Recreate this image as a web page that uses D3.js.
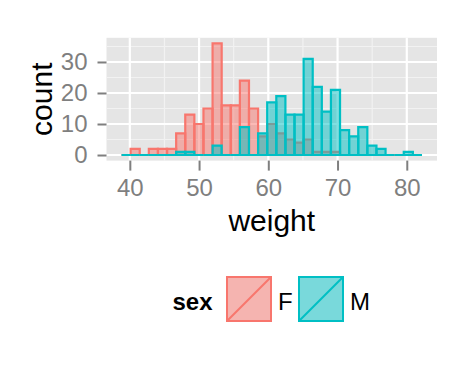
<!DOCTYPE html>
<html lang="en">
    <head>
        <script src="https://d3js.org/d3.v7.min.js"></script>
        <title>weight histogram</title>
        <style>
            body { margin: 0; background: #fff; }
            text { font-family: "Liberation Sans", Arial, Helvetica, sans-serif; }
        </style>
    </head>

    <body>
        <div id="plot-div"></div>
        <script>
            // histogram bins (weight), 33 bins
            const binStart = 38.8
            const binWidth = 1.315
            const countsF = [0, 2, 0, 2, 2, 2, 7, 13, 10, 15, 36, 16, 16, 24, 15, 6, 10,
                             7, 5, 4, 5, 1, 1, 1, 0, 0, 0, 0, 0, 0, 0, 0, 0]
            const countsM = [0, 0, 0, 0, 0, 0, 1, 1, 0, 0, 3, 0, 0, 9, 0, 7, 17,
                             19, 13, 13, 31, 22, 14, 21, 8, 6, 9, 3, 2, 0, 0, 1, 0]
            const groups = ['F', 'M']
            const xTicks = [40, 50, 60, 70, 80]
            const xMinor = [45, 55, 65, 75]
            const yTicks = [0, 10, 20, 30]
            const yMinor = [5, 15, 25, 35]

            const width = 474
            const height = 379
            const panel = { left: 106.5, right: 437, top: 37.8, bottom: 160.6 }

            const colors = { F: '#F8766D', M: '#00BFC4' }
            const gray = '#7F7F7F'

            let makeBins = (counts, key) => counts.map((c, i) => ({
                key: key,
                x0: binStart + i * binWidth,
                x1: binStart + (i + 1) * binWidth,
                count: c
            }))
            const data = [].concat(makeBins(countsF, 'F'), makeBins(countsM, 'M'))

            // ggplot style 5% expansion
            const xLo = binStart, xHi = binStart + countsF.length * binWidth
            const xPad = (xHi - xLo) * 0.05
            const yMax = d3.max(data, d => d.count)
            const yPad = yMax * 0.05

            let xScale = d3.scaleLinear()
                .domain([xLo - xPad, xHi + xPad])
                .range([panel.left, panel.right])

            let yScale = d3.scaleLinear()
                .domain([-yPad, yMax + yPad])
                .range([panel.bottom, panel.top])

            let svg = d3.select('#plot-div')
                .append('svg')
                .attr('width', width)
                .attr('height', height)

            svg.append('rect')
                .attr('width', width)
                .attr('height', height)
                .attr('fill', '#fff')

            // panel background
            svg.append('rect')
                .attr('x', panel.left)
                .attr('y', panel.top)
                .attr('width', panel.right - panel.left)
                .attr('height', panel.bottom - panel.top)
                .attr('fill', '#E5E5E5')

            // minor grid
            let grid = svg.append('g')
            grid.selectAll('.vminor').data(xMinor).join('line')
                .attr('x1', d => xScale(d)).attr('x2', d => xScale(d))
                .attr('y1', panel.top).attr('y2', panel.bottom)
                .attr('stroke', '#F2F2F2').attr('stroke-width', 1.2)
            grid.selectAll('.hminor').data(yMinor).join('line')
                .attr('x1', panel.left).attr('x2', panel.right)
                .attr('y1', d => yScale(d)).attr('y2', d => yScale(d))
                .attr('stroke', '#F2F2F2').attr('stroke-width', 1.2)

            // major grid
            grid.append('g').selectAll('line').data(xTicks).join('line')
                .attr('x1', d => xScale(d)).attr('x2', d => xScale(d))
                .attr('y1', panel.top).attr('y2', panel.bottom)
                .attr('stroke', '#fff').attr('stroke-width', 2.2)
            grid.append('g').selectAll('line').data(yTicks).join('line')
                .attr('x1', panel.left).attr('x2', panel.right)
                .attr('y1', d => yScale(d)).attr('y2', d => yScale(d))
                .attr('stroke', '#fff').attr('stroke-width', 2.2)

            // bars as paths so empty bins still show their outline
            let barPath = d => {
                let a = xScale(d.x0), b = xScale(d.x1)
                let y0 = yScale(0), y1 = yScale(d.count)
                return `M${a},${y0}V${y1}H${b}V${y0}Z`
            }
            groups.forEach(g => {
                svg.append('g')
                    .selectAll('path')
                    .data(data.filter(d => d.key === g))
                    .join('path')
                    .attr('d', barPath)
                    .attr('fill', colors[g])
                    .attr('fill-opacity', 0.5)
                    .attr('stroke', colors[g])
                    .attr('stroke-width', 2.2)
                    .attr('stroke-linejoin', 'miter')
            })

            // x axis
            let xAxis = svg.append('g')
                .attr('transform', `translate(0,${panel.bottom})`)
                .call(d3.axisBottom(xScale).tickValues(xTicks).tickSize(10).tickPadding(8))
            xAxis.select('.domain').remove()
            xAxis.selectAll('.tick line').attr('stroke', gray).attr('stroke-width', 2)
            xAxis.selectAll('.tick text')
                .attr('fill', gray)
                .attr('font-size', 24)
                .attr('font-family', '"Liberation Sans", Arial, sans-serif')

            // y axis
            let yAxis = svg.append('g')
                .attr('transform', `translate(${panel.left},0)`)
                .call(d3.axisLeft(yScale).tickValues(yTicks).tickSize(9).tickPadding(10))
            yAxis.select('.domain').remove()
            yAxis.selectAll('.tick line').attr('stroke', gray).attr('stroke-width', 2)
            yAxis.selectAll('.tick text')
                .attr('fill', gray)
                .attr('font-size', 24)
                .attr('font-family', '"Liberation Sans", Arial, sans-serif')

            // axis titles
            svg.append('text')
                .attr('x', (panel.left + panel.right) / 2)
                .attr('y', 231)
                .attr('text-anchor', 'middle')
                .attr('font-size', 30)
                .attr('fill', '#000')
                .text('weight')

            svg.append('text')
                .attr('transform', `translate(51.5,${(panel.top + panel.bottom) / 2}) rotate(-90)`)
                .attr('text-anchor', 'middle')
                .attr('font-size', 30)
                .attr('fill', '#000')
                .text('count')

            // legend
            let legend = svg.append('g')
            legend.append('text')
                .attr('x', 172.5)
                .attr('y', 309.5)
                .attr('font-size', 24)
                .attr('font-weight', 'bold')
                .text('sex')

            const keyX = { F: 226, M: 298 }
            const keyY = 276, keySize = 46
            groups.forEach(g => {
                let k = legend.append('g').attr('transform', `translate(${keyX[g]},${keyY})`)
                k.append('rect')
                    .attr('width', keySize).attr('height', keySize)
                    .attr('fill', '#F2F2F2')
                k.append('rect')
                    .attr('x', 1).attr('y', 1)
                    .attr('width', keySize - 2).attr('height', keySize - 2)
                    .attr('fill', colors[g]).attr('fill-opacity', 0.5)
                    .attr('stroke', colors[g]).attr('stroke-width', 2)
                k.append('line')
                    .attr('x1', 1).attr('y1', keySize - 1)
                    .attr('x2', keySize - 1).attr('y2', 1)
                    .attr('stroke', colors[g]).attr('stroke-width', 2)
                legend.append('text')
                    .attr('x', keyX[g] + keySize + 6)
                    .attr('y', 310)
                    .attr('font-size', 24)
                    .text(g)
            })
        </script>
    </body>
</html>
